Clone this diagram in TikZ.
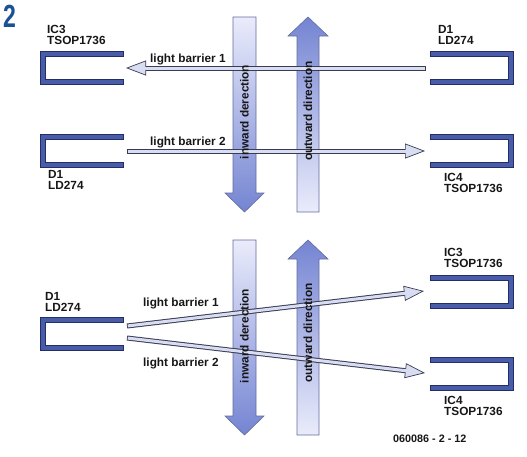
\documentclass[tikz,border=0pt]{standalone}
\usepackage{fontspec}
\setmainfont{Liberation Sans}
\usepackage{tikz}
\usetikzlibrary{arrows.meta}
\definecolor{arrowLight}{RGB}{234,236,251}
\definecolor{arrowDark}{RGB}{116,132,210}
\definecolor{arrowEdge}{RGB}{98,108,158}
\definecolor{sensorBlue}{RGB}{72,92,168}
\definecolor{sensorEdge}{RGB}{35,45,105}
\definecolor{beamFill}{RGB}{216,221,241}
\definecolor{beamEdge}{RGB}{58,60,84}
\definecolor{figBlue}{RGB}{25,80,150}
\definecolor{inkGray}{RGB}{22,22,22}
\tikzset{
     sensor/.style =
        { draw=sensorEdge
        , fill=sensorBlue
        , line width=0.6pt
        }
   , beam/.style =
        { draw=beamEdge
        , line width=5pt
        , -{Triangle[length=20pt,width=15pt,fill=beamFill,line width=0.7pt]}
        }
   , beamCore/.style =
        { draw=beamFill
        , line width=3pt
        , shorten <=0.8pt
        , shorten >=19pt
        }
   , bigArrow/.style =
        { draw=arrowEdge
        , line width=0.6pt
        }
   , partLabel/.style =
        { anchor=north west
        , inner sep=0pt
        , align=left
        , text=inkGray
        , font=\fontsize{11.8}{11}\selectfont\bfseries
        }
   , beamLabel/.style =
        { anchor=base west
        , inner sep=0pt
        , text=inkGray
        , font=\fontsize{11.8}{11}\selectfont\bfseries
        }
   , dirLabel/.style =
        { rotate=90
        , inner sep=0pt
        , text=inkGray
        , font=\fontsize{11.8}{11}\selectfont\bfseries
        }
}

\begin{document}
\begin{tikzpicture}
            [ x=1pt
            , y=-1pt
            ]
            \useasboundingbox (0,0) rectangle (527,456);

            % figure number
            \node[anchor=north west, inner sep=0pt, text=figBlue,
                  font=\fontsize{32}{32}\selectfont\bfseries] (fig) at (3,5)
                  {\scalebox{0.72}[1]{2}};

            % big direction arrows
            \shade[bigArrow, top color=arrowLight, bottom color=arrowDark]
                (233,17) -- (256,17) -- (256,193) -- (264,193)
                -- (244.5,212) -- (225,193) -- (233,193) -- cycle;
            \shade[bigArrow, top color=arrowDark, bottom color=arrowLight]
                (297,212) -- (297,36) -- (288,36) -- (308,17)
                -- (328,36) -- (319,36) -- (319,212) -- cycle;
            \shade[bigArrow, top color=arrowLight, bottom color=arrowDark]
                (233,240) -- (256,240) -- (256,416) -- (264,416)
                -- (244.5,435) -- (225,416) -- (233,416) -- cycle;
            \shade[bigArrow, top color=arrowDark, bottom color=arrowLight]
                (297,435) -- (297,259) -- (288,259) -- (308,240)
                -- (328,259) -- (319,259) -- (319,435) -- cycle;

            % sensors open to the right
            \foreach \y in {51,134,317}
                \draw[sensor] (40,\y) -- ++(83,0) -- ++(0,5) -- ++(-78,0)
                    -- ++(0,23) -- ++(78,0) -- ++(0,5) -- ++(-83,0) -- cycle;
            % sensors open to the left
            \foreach \y in {51,134,275,357}
                \draw[sensor] (513,\y) -- ++(-83,0) -- ++(0,5) -- ++(78,0)
                    -- ++(0,23) -- ++(-78,0) -- ++(0,5) -- ++(83,0) -- cycle;

            % beam ends
            \coordinate (srcA) at (426,68);
            \coordinate (dstA) at (126,68);
            \coordinate (srcB) at (127,151);
            \coordinate (dstB) at (425,151);
            \coordinate (srcC) at (127,326);
            \coordinate (dstC) at (424,291);
            \coordinate (srcD) at (127,338);
            \coordinate (dstD) at (425,373);

            \foreach \s/\d in {srcA/dstA,srcB/dstB,srcC/dstC,srcD/dstD}
            {
                \draw[beam] (\s) -- (\d);
                \draw[beamCore] (\s) -- (\d);
            }

            % direction texts
            \node[dirLabel] (inTop) at (244.5,112) {inward derection};
            \node[dirLabel] (outTop) at (308,111) {outward direction};
            \node[dirLabel] (inBot) at (244.5,336) {inward derection};
            \node[dirLabel] (outBot) at (308,333) {outward direction};

            % beam texts
            \node[beamLabel] (barA) at (150,62) {light barrier 1};
            \node[beamLabel] (barB) at (150,145) {light barrier 2};
            \node[beamLabel] (barC) at (143,306) {light barrier 1};
            \node[beamLabel] (barD) at (143,366) {light barrier 2};

            % part texts
            \node[partLabel] (ic3Top) at (47,25) {IC3\\TSOP1736};
            \node[partLabel] (d1Left) at (48,170) {D1\\LD274};
            \node[partLabel] (d1Right) at (438,25) {D1\\LD274};
            \node[partLabel] (ic4Top) at (444,173) {IC4\\TSOP1736};
            \node[partLabel] (d1Bot) at (45,292) {D1\\LD274};
            \node[partLabel] (ic3Bot) at (444,248) {IC3\\TSOP1736};
            \node[partLabel] (ic4Bot) at (444,396) {IC4\\TSOP1736};

            \node[anchor=base west, inner sep=0pt, text=inkGray,
                  font=\fontsize{10.8}{11}\selectfont\bfseries] (code) at (393,442)
                  {060086 - 2 - 12};
        \end{tikzpicture}
\end{document}
